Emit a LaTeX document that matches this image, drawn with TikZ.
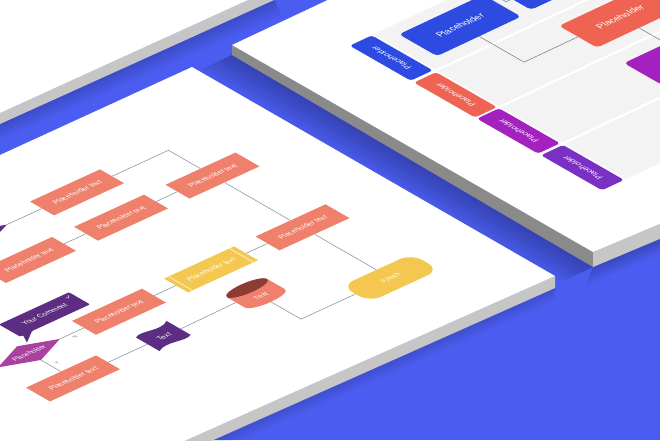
\documentclass[tikz,border=0pt]{standalone}
\usepackage{fontspec}
\setmainfont{Liberation Sans}
\usetikzlibrary{shapes.geometric}
\definecolor{bgblue}{HTML}{4B5CF0}
\definecolor{coral}{HTML}{EE806C}
\definecolor{fyellow}{HTML}{F4C850}
\definecolor{dpurple}{HTML}{5C2D82}
\definecolor{magen}{HTML}{AA41A0}
\definecolor{cyltop}{HTML}{8C3C32}
\definecolor{connc}{HTML}{8A99A6}
\definecolor{rconnc}{HTML}{6F7780}
\definecolor{sidedark}{HTML}{8A8A8A}
\definecolor{sidelight}{HTML}{C6C6C6}
\definecolor{canvasgray}{HTML}{F2F3F2}
\definecolor{rblue}{HTML}{2D4BE0}
\definecolor{rred}{HTML}{EE6352}
\definecolor{rmag}{HTML}{A322BF}
\definecolor{rpurp}{HTML}{7B30C4}
\begin{document}
\begin{tikzpicture}[x=1pt,y=1pt,
  fbox/.style={fill=coral, minimum width=70pt, minimum height=24pt, inner sep=0pt,
    text=white, font=\fontsize{6.5}{7}\selectfont, transform shape},
  lconn/.style={draw=connc, line width=0.6pt},
  rconn/.style={draw=rconnc, line width=0.5pt},
  hdr/.style={minimum width=61pt, minimum height=22pt, rounded corners=3pt, inner sep=0pt,
    text=white, font=\fontsize{7}{8}\selectfont, transform shape, rotate=90},
  rbox/.style={minimum width=84pt, minimum height=38pt, rounded corners=4pt, inner sep=0pt,
    text=white, font=\fontsize{8.5}{9}\selectfont, transform shape},
  lbl/.style={text=gray, font=\fontsize{4.5}{5}\selectfont, transform shape, inner sep=0pt}
]
\useasboundingbox (0,0) rectangle (660,-440);
\clip (0,0) rectangle (660,-440);
\fill[bgblue] (0,0) rectangle (660,-440);

% shadows
\foreach \d in {4,8,...,32}
  \fill[black,opacity=0.03] (232,-55) -- (593,-267) -- ({593-\d},{-267-0.47*\d}) -- ({232-\d},{-55-0.47*\d}) -- cycle;
\foreach \d in {3,6,...,18}
  \fill[black,opacity=0.03] (593,-267) -- (700,-222) -- ({700-0.4*\d},{-222-\d}) -- ({593-0.4*\d},{-267-\d}) -- cycle;
\foreach \d in {3,6,...,15}
  \fill[black,opacity=0.03] (0,-124) -- (274,0) -- ({274+0.5*\d},{-\d}) -- ({0},{-124-\d}) -- cycle;
\foreach \d in {3,6,...,12}
  \fill[black,opacity=0.03] (555,-288) -- (190,-450.4) -- (190,{-450.4-\d}) -- (555,{-288-\d}) -- cycle;

% top-left slab
\fill[sidelight] (0,-113) -- (248,0) -- (274,0) -- (0,-124) -- cycle;
\fill[white] (0,0) -- (248,0) -- (0,-113) -- cycle;

% right slab
\fill[sidedark] (232,-45) -- (593,-252) -- (593,-267) -- (232,-55) -- cycle;
\fill[sidelight] (593,-252) -- (700,-207) -- (700,-222) -- (593,-267) -- cycle;
\fill[white] (232,-45) -- (327.7,0) -- (700,0) -- (700,-207) -- (593,-252) -- cycle;

\begin{scope}[cm={1,0.47,-1,0.573,(232pt,-45pt)}]
  \fill[canvasgray] (88,-306) rectangle (560,-53.5);
  \foreach \q in {-116.5,-180,-243.5}
    \draw[white, line width=2.2pt] (86,\q) -- (560,\q);
  \node[hdr, fill=rblue] (h1) at (75,-84.25) {Placeholder};
  \node[hdr, fill=rred] (h2) at (75,-148.5) {Placeholder};
  \node[hdr, fill=rmag] (h3) at (75,-211.5) {Placeholder};
  \node[hdr, fill=rpurp] (h4) at (75,-275.5) {Placeholder};
  \node[rbox, fill=rblue] (bb) at (144,-84) {Placeholder};
  \node[rbox, fill=rblue] (sb) at (240,-82) {};
  \node[rbox, fill=rred] (rr) at (240,-148) {Placeholder};
  \node[rbox, fill=rmag] (rm) at (240,-213) {};
  \coordinate (r1) at (144,-148);
  \draw[rconn] (bb.south) -- (r1) -- (rr.west);
  \draw[rconn] (rr.south) -- (rm.north);
  \coordinate (t0) at (192,-20);
  \coordinate (t1) at (192,-82);
  \draw[rconn] (t0) -- (t1) -- (sb.west);
\end{scope}

% left slab
\fill[sidelight] (555,-276) -- (555,-288) -- (190,-450.4) -- (160,-451.8) -- cycle;
\fill[white] (0,-155) -- (192,-67) -- (555,-276) -- (160,-451.8) -- (0,-451.8) -- cycle;

\begin{scope}[cm={1,0.46,-1,0.575,(192pt,-67pt)}]
  \node[fbox, fill=dpurple, shape=diamond, aspect=2.9, minimum width=70pt, minimum height=26pt] (pd) at (-290,-70) {};
  \node[fbox] (A) at (-185,-70) {Placeholder text};
  \node[fbox] (B) at (-93.5,-114) {Placeholder text};
  \node[fbox] (C) at (-185,-114) {Placeholder text};
  \node[fbox] (D) at (-277,-114) {Placeholder text};
  \node[fbox] (E) at (-93.5,-204) {Placeholder text};
  \node[fbox, fill=fyellow] (Yb) at (-185,-204) {Placeholder text};
  \draw[white, line width=0.5pt] (-215.5,-216) -- (-215.5,-192) (-154.5,-216) -- (-154.5,-192);
  \node[fbox] (F) at (-277,-204) {Placeholder text};
  \node[fbox, fill=magen, shape=diamond, aspect=2.6, minimum width=62pt, minimum height=24pt,
     font=\fontsize{6}{7}\selectfont] (dia) at (-367,-204) {Placeholder};
  \node[fbox] (G) at (-367,-248) {Placeholder text};
  % tape shape
  \fill[dpurple] (-292.5,-236.5) .. controls (-284,-231) and (-272,-242) .. (-259.5,-234)
     -- (-259.5,-258) .. controls (-268,-263) and (-280,-253) .. (-292.5,-260) -- cycle;
  \node[transform shape, minimum width=33pt, minimum height=23pt, inner sep=0pt, text=white,
     font=\fontsize{6.5}{7}\selectfont] (T) at (-276,-248) {Text};
  % cylinder
  \fill[coral] (-203,-238) -- (-203,-256) arc[start angle=180, end angle=360, x radius=20, y radius=6] -- (-163,-238) -- cycle;
  \fill[cyltop] (-183,-238) ellipse[x radius=20, y radius=6];
  \node[transform shape, minimum width=40pt, minimum height=30pt, inner sep=0pt] (cyl) at (-183,-247) {};
  \node[transform shape, text=white, font=\fontsize{6.5}{7}\selectfont, inner sep=0pt] (cyltxt) at (-183,-252) {Text};
  % finish
  \node[fbox, fill=fyellow, rounded corners=13pt, minimum height=28pt] (fin) at (-93.5,-292) {Finish};
  % comment bubble
  \fill[dpurple, rounded corners=1pt] (-356,-163) -- (-286,-163) -- (-286,-184) -- (-344,-184) -- (-358,-193) -- (-353,-184) -- (-356,-184) -- cycle;
  \node[transform shape, text=white, font=\fontsize{6.5}{7}\selectfont, inner sep=0pt] (com) at (-321,-173.5) {Your Comment};
  \draw[white, line width=0.4pt] (-293,-167) -- (-291.5,-168.5) -- (-289,-165);
  % labels
  \node[lbl] (ln) at (-326,-209) {N};
  \node[lbl] (ly) at (-361,-226) {Y};
  % connectors
  \draw[lconn] (pd.east) -- (A.west);
  \coordinate (k1) at (-93.5,-70);
  \draw[lconn] (A.east) -- (k1) -- (B.north);
  \draw[lconn] (D.east) -- (C.west);
  \draw[lconn] (C.east) -- (B.west);
  \draw[lconn] (B.south) -- (E.north);
  \draw[lconn] (F.east) -- (Yb.west);
  \draw[lconn] (Yb.east) -- (E.west);
  \draw[lconn] (dia.east) -- (F.west);
  \draw[lconn] (dia.south) -- (G.north);
  \draw[lconn] (G.east) -- (T.west);
  \draw[lconn] (T.east) -- (cyl.west);
  \coordinate (k2) at (-183,-292);
  \draw[lconn] (cyl.south) -- (k2) -- (fin.west);
  \draw[lconn] (E.south) -- (fin.north);
\end{scope}
\end{tikzpicture}
\end{document}
